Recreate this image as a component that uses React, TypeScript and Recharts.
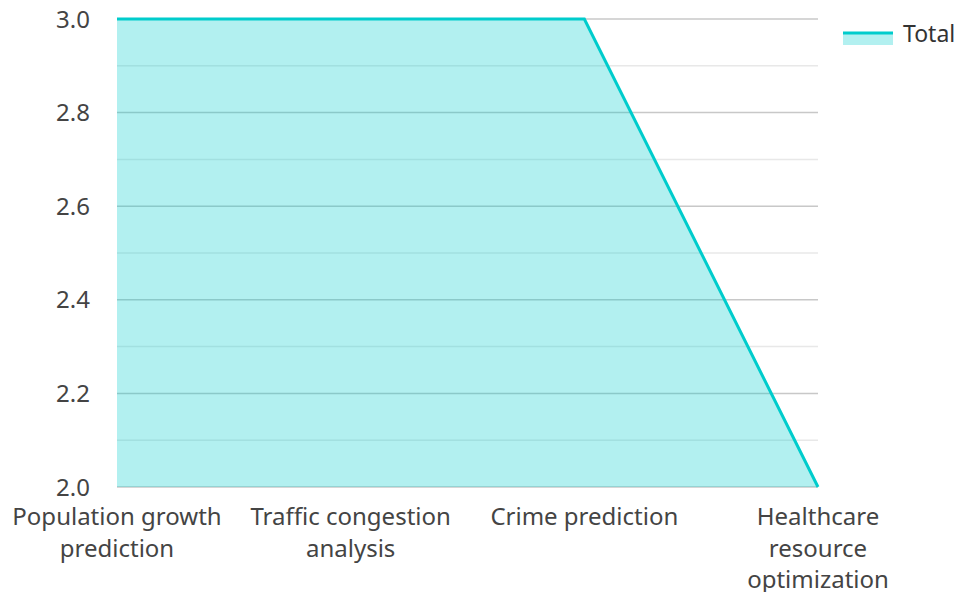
import React from 'react';
import { AreaChart, Area, XAxis, YAxis, CartesianGrid } from 'recharts';

// Chart data
const categories = [
  'Population growth prediction',
  'Traffic congestion analysis',
  'Crime prediction',
  'Healthcare resource optimization',
];
const totalValues = [3, 3, 3, 2];
const majorTicks = [2.0, 2.2, 2.4, 2.6, 2.8, 3.0];
const minorTicks = [2.1, 2.3, 2.5, 2.7, 2.9];
const seriesName = 'Total';

const chartData = categories.map((name, i) => ({ name, total: totalValues[i] }));
const allTicks = [...majorTicks, ...minorTicks].sort((a, b) => a - b);
const isMajor = (v: number) => majorTicks.some((t) => Math.abs(t - v) < 1e-6);

const LINE_COLOR = '#00cccc';
const FONT = '"Noto Sans", sans-serif';
const FONT_SIZE = 24;

// Simple word wrap by character count
const wrapLabel = (label: string, maxChars = 18) => {
  const words = label.split(' ');
  const lines: string[] = [];
  let current = '';
  words.forEach((w) => {
    const next = current ? `${current} ${w}` : w;
    if (next.length > maxChars && current) {
      lines.push(current);
      current = w;
    } else {
      current = next;
    }
  });
  if (current) lines.push(current);
  return lines;
};

const CategoryTick = ({ x, y, payload }: any) => {
  const lines = wrapLabel(String(payload.value));
  return (
    <text x={x} y={y} textAnchor="middle" fill="#444" fontSize={FONT_SIZE} fontFamily={FONT}>
      {lines.map((line, i) => (
        <tspan key={i} x={x} dy={i === 0 ? '0.71em' : 31.5}>
          {line}
        </tspan>
      ))}
    </text>
  );
};

// major lines darker, minor lines lighter (ticks sorted ascending)
const GridLine = (props: any) => {
  const { x1, y1, x2, y2, index } = props;
  const major = allTicks[index] !== undefined ? isMajor(allTicks[index]) : index % 2 === 0;
  return (
    <line
      x1={x1}
      y1={y1}
      x2={x2}
      y2={y2}
      stroke={major ? '#c8c8c8' : '#e8e8e8'}
      strokeWidth={1.5}
    />
  );
};

const App = () => {
  return (
    <div style={{ position: 'absolute', left: 0, top: 0, width: 959, height: 592, fontFamily: FONT }}>
      <AreaChart
        width={959}
        height={592}
        data={chartData}
        margin={{ top: 19, right: 141, left: 0, bottom: 0 }}
      >
        <CartesianGrid vertical={false} horizontal={GridLine} />
        <XAxis
          dataKey="name"
          axisLine={false}
          tickLine={false}
          tickSize={0}
          tickMargin={21}
          height={105}
          interval={0}
          tick={<CategoryTick />}
        />
        <YAxis
          domain={[2, 3]}
          ticks={allTicks}
          interval={0}
          tickFormatter={(v: number) => (isMajor(v) ? v.toFixed(1) : '')}
          axisLine={false}
          tickLine={false}
          tickSize={0}
          tickMargin={27}
          width={117}
          tick={{ fill: '#444', fontSize: FONT_SIZE, fontFamily: FONT }}
        />
        <Area
          type="linear"
          dataKey="total"
          name={seriesName}
          stroke={LINE_COLOR}
          strokeWidth={3}
          fill={LINE_COLOR}
          fillOpacity={0.3}
          dot={false}
          activeDot={false}
          isAnimationActive={false}
        />
      </AreaChart>
      <div
        style={{
          position: 'absolute',
          left: 843,
          top: 17,
          display: 'flex',
          alignItems: 'center',
          fontSize: 23,
          color: '#333',
        }}
      >
        <svg width={50} height={26} style={{ marginRight: 10 }}>
          <rect x={0} y={13} width={50} height={12} fill={LINE_COLOR} fillOpacity={0.3} />
          <line x1={0} y1={13} x2={50} y2={13} stroke={LINE_COLOR} strokeWidth={3} />
        </svg>
        <span>{seriesName}</span>
      </div>
    </div>
  );
};

export default App;
